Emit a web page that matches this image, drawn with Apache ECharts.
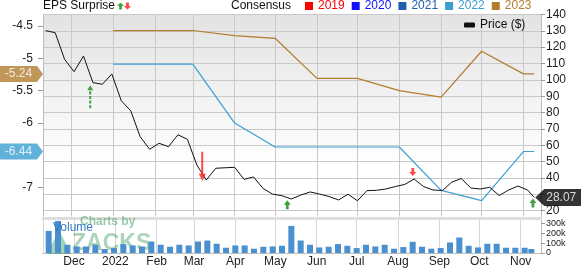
<!DOCTYPE html>
<html><head><meta charset="utf-8">
<script src="https://cdn.jsdelivr.net/npm/echarts@6/dist/echarts.min.js"></script>
<style>html,body{margin:0;padding:0;background:#fff}#c{width:581px;height:268px}</style>
</head><body><div id="c"></div>
<script>
// ---------- data ----------
const weekDates = ['2021-11-12','2021-11-19','2021-11-26','2021-12-03','2021-12-10','2021-12-17','2021-12-24','2021-12-31',
 '2022-01-07','2022-01-14','2022-01-21','2022-01-28','2022-02-04','2022-02-11','2022-02-18','2022-02-25',
 '2022-03-04','2022-03-11','2022-03-18','2022-03-25','2022-04-01','2022-04-08','2022-04-15','2022-04-22','2022-04-29',
 '2022-05-06','2022-05-13','2022-05-20','2022-05-27','2022-06-03','2022-06-10','2022-06-17','2022-06-24',
 '2022-07-01','2022-07-08','2022-07-15','2022-07-22','2022-07-29','2022-08-05','2022-08-12','2022-08-19','2022-08-26',
 '2022-09-02','2022-09-09','2022-09-16','2022-09-23','2022-09-30','2022-10-07','2022-10-14','2022-10-21','2022-10-28',
 '2022-11-04','2022-11-09'];
const priceValues = [130.1,128.9,112.6,105.0,114.6,98.3,97.3,103.6,
 87.2,81.1,65.2,57.5,61.2,59.1,66.4,63.6,
 47.9,38.7,45.9,46.2,46.5,39.1,40.6,33.6,30.1,
 29.1,27.1,29.5,31.4,30.1,28.6,26.5,30.0,
 26.0,32.2,32.4,33.2,34.7,36.0,39.3,34.7,32.6,
 32.3,37.5,39.6,33.8,33.2,34.25,29.2,32.6,35.0,
 32.6,28.07];
const volumeValues = [223000,323000,83000,66000,66000,83000,40000,50000,
 90000,76000,66000,116000,83000,63000,83000,76000,
 116000,126000,93000,53000,76000,76000,43000,63000,66000,
 73000,273000,126000,83000,56000,63000,90000,73000,
 50000,83000,66000,83000,43000,60000,113000,63000,43000,
 50000,106000,156000,73000,56000,93000,93000,53000,53000,
 53000,40000];
const consensusDates = ['2022-01-01','2022-02-01','2022-03-01','2022-04-01','2022-05-01','2022-06-01',
 '2022-07-01','2022-08-01','2022-09-01','2022-10-01','2022-11-01','2022-11-09'];
const consensus2022 = [-5.09,-5.09,-5.09,-6.00,-6.37,-6.37,-6.37,-6.37,-7.04,-7.20,-6.44,-6.44];
const consensus2023 = [-4.57,-4.57,-4.57,-4.65,-4.69,-5.31,-5.31,-5.50,-5.60,-4.89,-5.24,-5.24];
const surpriseDates = ['2021-12-15','2022-03-08','2022-05-10','2022-08-11','2022-11-08'];
const surpriseLevels = [89.7,47.2,23.6,43.6,24.6];
const surpriseKinds = ['beatLong','missLong','beat','miss','beat'];
const epsLabelTicks = [-7,-6,-5.5,-5,-4.5];
const priceTickValues = [20,30,40,50,60,70,80,90,100,110,120,130,140];
const priceLabelValues = [20,40,50,60,70,80,90,100,110,120,130,140];
const volumeTickValues = [0,100000,200000,300000];
const legendYears = ['2019','2020','2021','2022','2023'];
const monthNames = ['Jan','Feb','Mar','Apr','May','Jun','Jul','Aug','Sep','Oct','Nov','Dec'];

// ---------- styling ----------
const FONT = 'Liberation Sans, Arial, sans-serif';
const yearColors = {'2019':'#ff0000','2020':'#1010ff','2021':'#1f5fad','2022':'#3a9fd2','2023':'#b07d2e'};
const xMin = new Date(2021,10,10).getTime();
const xMax = new Date(2022,10,14).getTime();
const DAY = 86400000;

const UP_SMALL = 'path://M5,0 L10,5 L7,5 L7,10 L3,10 L3,5 L0,5 Z';
const DOWN_SMALL = 'path://M3,0 L7,0 L7,5 L10,5 L5,10 L0,5 L3,5 Z';
const UP_DASHED = 'path://M3,0 L6,5 L0,5 Z M2,6 L4,6 L4,9 L2,9 Z M2,10.5 L4,10.5 L4,13.5 L2,13.5 Z M2,15 L4,15 L4,18 L2,18 Z M2,19.5 L4,19.5 L4,22.5 L2,22.5 Z';
const DOWN_LONG = 'path://M2.5,0 L4.5,0 L4.5,22 L7,22 L3.5,29 L0,22 L2.5,22 Z';
const symbolFor = {beatLong:[UP_DASHED,[6,23]], missLong:[DOWN_LONG,[7,29]], beat:[UP_SMALL,[7,9]], miss:[DOWN_SMALL,[7,8]]};

const beatData = [], missData = [];
surpriseDates.forEach((d,i)=>{
  const k = surpriseKinds[i];
  const item = {value:[d, surpriseLevels[i]], symbol:symbolFor[k][0], symbolSize:symbolFor[k][1]};
  (k.indexOf('beat')===0 ? beatData : missData).push(item);
});

const chart = echarts.init(document.getElementById('c'), null, {renderer:'canvas'});
const option = {
  animation:false,
  textStyle:{fontFamily:FONT},
  title:[
    {text:'EPS Surprise', left:43, top:0, padding:0, textStyle:{fontSize:12, fontWeight:'normal', color:'#111', fontFamily:FONT}},
    {text:'Consensus', left:231, top:0, padding:0, textStyle:{fontSize:12, fontWeight:'normal', color:'#111', fontFamily:FONT}}
  ],
  legend:[
    {data:legendYears.map(y=>({name:y, textStyle:{color:yearColors[y]}})), left:305, top:0, padding:0,
     itemWidth:8, itemHeight:8, itemGap:7, icon:'rect', selectedMode:false,
     textStyle:{fontSize:12, fontFamily:FONT}},
    {data:[{name:'Price ($)', icon:'roundRect'}], left:464, top:19, padding:0, itemWidth:11, itemHeight:5,
     selectedMode:false, textStyle:{fontSize:12, color:'#111', fontFamily:FONT}},
    {data:[{name:'Beat', icon:UP_SMALL},{name:'Miss', icon:DOWN_SMALL}], left:117, top:2, padding:0,
     itemWidth:7, itemHeight:8, itemGap:0, selectedMode:false, formatter:()=>'',
     textStyle:{fontSize:1, padding:0} }
  ],
  grid:[
    {left:43, right:40, top:14.5, height:202, show:true, borderWidth:0,
     backgroundColor:new echarts.graphic.LinearGradient(0,0,0,1,[{offset:0,color:'#e3e3e3'},{offset:0.75,color:'#ffffff'}])},
    {left:43, right:40, top:219, height:34.3, show:true, borderWidth:0, backgroundColor:'#ffffff'}
  ],
  xAxis:[
    {type:'time', gridIndex:0, min:xMin, max:xMax, minInterval:28*DAY, maxInterval:31*DAY,
     axisLabel:{show:false}, axisTick:{show:false},
     axisLine:{show:true, onZero:false, lineStyle:{color:'#dedede', width:3}}, offset:1.5,
     splitLine:{show:true, lineStyle:{color:'#c9c9c9', width:1}}},
    {type:'time', gridIndex:1, min:xMin, max:xMax, minInterval:28*DAY, maxInterval:31*DAY,
     axisTick:{show:false}, axisLine:{show:true, onZero:false, lineStyle:{color:'#bbbbbb'}},
     splitLine:{show:true, lineStyle:{color:'#d6d6d6', width:1}},
     axisLabel:{margin:3, fontSize:12, color:'#222', fontFamily:FONT, hideOverlap:false,
       formatter:function(v){const d=new Date(v);return d.getMonth()===0?String(d.getFullYear()):monthNames[d.getMonth()];}}}
  ],
  yAxis:[
    {type:'value', gridIndex:0, position:'left', min:-7.4444, max:-4.3223,
     axisLine:{show:true, lineStyle:{color:'#bdbdbd'}},
     axisTick:{show:true, length:5, lineStyle:{color:'#999'}, customValues:epsLabelTicks},
     axisLabel:{margin:10, fontSize:12, color:'#222', fontFamily:FONT, customValues:epsLabelTicks, formatter:v=>String(v)},
     splitLine:{show:false}},
    {type:'value', gridIndex:0, position:'right', min:16.38, max:140,
     axisLine:{show:true, lineStyle:{color:'#bdbdbd'}},
     axisTick:{show:true, length:4, lineStyle:{color:'#999'}, customValues:priceTickValues},
     axisLabel:{margin:5, fontSize:12, color:'#222', fontFamily:FONT, customValues:priceLabelValues},
     splitLine:{show:true, lineStyle:{color:'#c9c9c9', width:1}}},
    {type:'value', gridIndex:1, position:'right', min:0, max:343000,
     axisLine:{show:true, lineStyle:{color:'#bdbdbd'}},
     axisTick:{show:true, length:4, lineStyle:{color:'#999'}, customValues:volumeTickValues},
     axisLabel:{margin:5, fontSize:9, color:'#222', fontFamily:FONT, customValues:volumeTickValues,
       formatter:v=>v===0?'0':(v/1000)+'k'},
     splitLine:{show:false}}
  ],
  series:[
    {name:'2019', type:'line', data:[], color:yearColors['2019']},
    {name:'2020', type:'line', data:[], color:yearColors['2020']},
    {name:'2021', type:'line', data:[], color:yearColors['2021']},
    {name:'2022', type:'line', xAxisIndex:0, yAxisIndex:0, color:yearColors['2022'], symbol:'none',
     lineStyle:{width:1.2}, data:consensusDates.map((d,i)=>[d, consensus2022[i]]), z:3},
    {name:'2023', type:'line', xAxisIndex:0, yAxisIndex:0, color:yearColors['2023'], symbol:'none',
     lineStyle:{width:1.2}, data:consensusDates.map((d,i)=>[d, consensus2023[i]]), z:3},
    {name:'Price ($)', type:'line', xAxisIndex:0, yAxisIndex:1, color:'#111', symbol:'none',
     lineStyle:{width:1}, data:weekDates.map((d,i)=>[d, priceValues[i]]), z:4},
    {name:'Beat', type:'scatter', xAxisIndex:0, yAxisIndex:1, color:'#138a13', data:beatData, z:6, clip:false},
    {name:'Miss', type:'scatter', xAxisIndex:0, yAxisIndex:1, color:'#ff1a1a', data:missData, z:6, clip:false},
    {name:'Volume', type:'bar', xAxisIndex:1, yAxisIndex:2, color:'#4a8fd0', barWidth:6,
     data:weekDates.map((d,i)=>[d, volumeValues[i]]), z:2},
    {name:'consLabels', type:'scatter', xAxisIndex:0, yAxisIndex:0, clip:false, z:10,
     symbol:'path://M0,0 L37,0 L43,8 L37,16 L0,16 Z', symbolSize:[43,16], symbolOffset:[-21.5,0],
     label:{show:true, position:'inside', color:'#fff', fontSize:12, fontFamily:FONT, offset:[-3,0],
       formatter:p=>p.value[1].toFixed(2)},
     data:[
       {value:[xMin, consensus2023[consensus2023.length-1]], itemStyle:{color:yearColors['2023']}},
       {value:[xMin, consensus2022[consensus2022.length-1]], itemStyle:{color:yearColors['2022']}}
     ]},
    {name:'priceLabel', type:'scatter', xAxisIndex:0, yAxisIndex:1, clip:false, z:10,
     symbol:'path://M0,8.5 L9,0 L46,0 L46,17 L9,17 Z', symbolSize:[46,17], symbolOffset:[24,0],
     itemStyle:{color:'#000'},
     label:{show:true, position:'inside', color:'#fff', fontSize:12, fontFamily:FONT, offset:[3,0],
       formatter:p=>p.value[1].toFixed(2)},
     data:[[weekDates[weekDates.length-1], priceValues[priceValues.length-1]]]}
  ],
  graphic:[
    {type:'polygon', left:47, top:230, z:1, shape:{points:[[0,24],[12,0],[24,24]]}, style:{fill:'rgba(50,160,90,0.45)'}},
    {type:'text', left:80, top:216, z:1, style:{text:'Charts by', font:'bold 12px '+FONT, fill:'rgba(70,160,100,0.55)'}},
    {type:'text', left:72, top:232, z:1, style:{text:'ZACKS', font:'bold 23px '+FONT, fill:'rgba(70,160,100,0.45)'}},
    {type:'text', left:53, top:222, z:100, style:{text:'Volume', font:'12px '+FONT, fill:'#2f78c4'}}
  ]
};
chart.setOption(option);
</script></body></html>
